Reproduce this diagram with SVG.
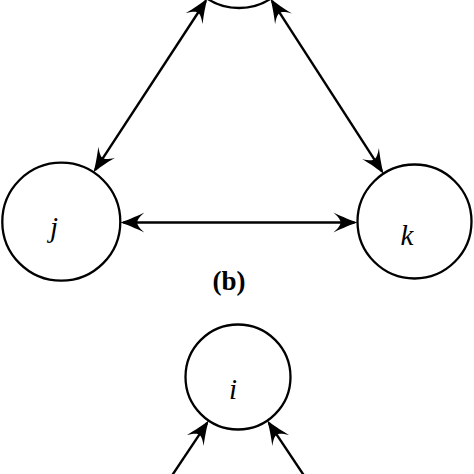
<svg xmlns="http://www.w3.org/2000/svg" width="474" height="474" viewBox="0 0 474 474">
<style>
.node{fill:#fff;stroke:#000;stroke-width:2.3}
.edge{fill:none;stroke:#000;stroke-width:2.4}
.lbl{font-family:'Liberation Serif','Times New Roman',serif;font-style:italic;font-size:29px;fill:#000;text-anchor:middle}
.cap{font-family:'Liberation Serif','Times New Roman',serif;font-weight:bold;font-size:27px;fill:#000;text-anchor:middle}
</style>
<defs>
<marker id="ah" viewBox="-26 -11 28 22" refX="-3" refY="0" markerWidth="28" markerHeight="22" markerUnits="userSpaceOnUse" orient="auto-start-reverse">
<path d="M0,0 C-6,-2 -15,-5.5 -24,-10 C-18,-4.5 -17,-2 -17,0 C-17,2 -18,4.5 -24,10 C-15,5.5 -6,2 0,0 Z" fill="#000"/>
</marker>
</defs>
<rect width="474" height="474" fill="#fff"/>
<g id="edges">
<path class="edge" d="M205.7,1.0 L95.2,169.8" marker-start="url(#ah)" marker-end="url(#ah)"/>
<path class="edge" d="M272.1,1.2 L381.9,171.1" marker-start="url(#ah)" marker-end="url(#ah)"/>
<path class="edge" d="M123.3,222.5 L354.5,222.5" marker-start="url(#ah)" marker-end="url(#ah)"/>
<path class="edge" d="M165,486 L207.0,423.1" marker-end="url(#ah)"/>
<path class="edge" d="M311,486 L269.0,423.1" marker-end="url(#ah)"/>
</g>
<g id="node-top">
<circle class="node" cx="239" cy="-50" r="58"/>
</g>
<g id="node-j">
<circle class="node" cx="61.3" cy="221.7" r="59"/>
<text class="lbl" x="54" y="237">j</text>
</g>
<g id="node-k">
<circle class="node" cx="414.5" cy="221.5" r="57"/>
<text class="lbl" x="407" y="245">k</text>
</g>
<text class="cap" x="229" y="290">(b)</text>
<g id="node-i">
<circle class="node" cx="238" cy="377" r="52.5"/>
<text class="lbl" x="233" y="399">i</text>
</g>
</svg>
